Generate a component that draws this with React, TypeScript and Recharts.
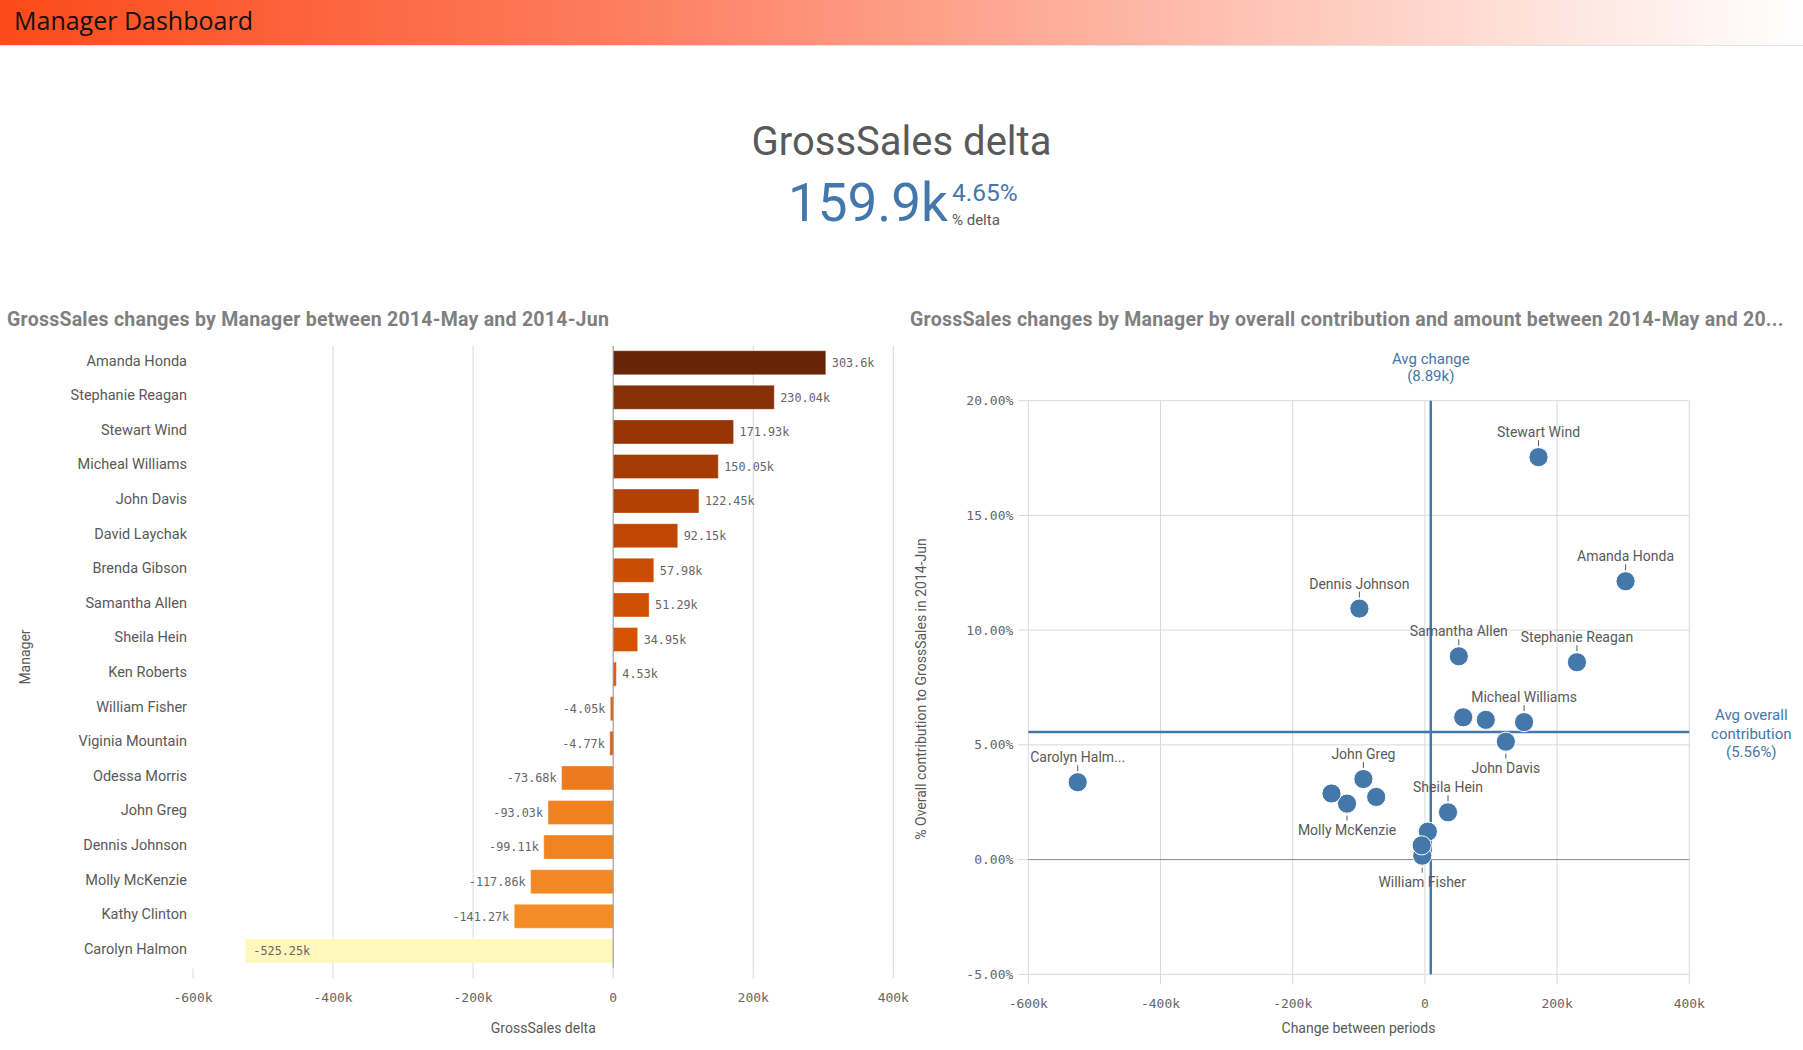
import React from 'react';
import {
  BarChart,
  Bar,
  XAxis,
  YAxis,
  Cell,
  LabelList,
  ReferenceLine,
  ScatterChart,
  Scatter,
  CartesianGrid,
} from 'recharts';

// ---------- data ----------
const managers = [
  'Amanda Honda',
  'Stephanie Reagan',
  'Stewart Wind',
  'Micheal Williams',
  'John Davis',
  'David Laychak',
  'Brenda Gibson',
  'Samantha Allen',
  'Sheila Hein',
  'Ken Roberts',
  'William Fisher',
  'Viginia Mountain',
  'Odessa Morris',
  'John Greg',
  'Dennis Johnson',
  'Molly McKenzie',
  'Kathy Clinton',
  'Carolyn Halmon',
];

// GrossSales delta between 2014-May and 2014-Jun, in thousands
const grossSalesDeltaK = [
  303.6, 230.04, 171.93, 150.05, 122.45, 92.15, 57.98, 51.29, 34.95, 4.53, -4.05, -4.77, -73.68,
  -93.03, -99.11, -117.86, -141.27, -525.25,
];

// % overall contribution to GrossSales in 2014-Jun
const contributionPct = [
  12.13, 8.6, 17.54, 5.99, 5.14, 6.09, 6.2, 8.86, 2.06, 1.22, 0.17, 0.62, 2.73, 3.51, 10.94, 2.44,
  2.88, 3.37,
];

const deltaTicks = [-600, -400, -200, 0, 200, 400];
const deltaGridValues = [-400, -200, 200, 400];
const contributionTicks = [-5, 0, 5, 10, 15, 20];

const avgChangeK = 8.89;
const avgContributionPct = 5.56;

const kpiTitle = 'GrossSales delta';
const kpiValue = '159.9k';
const kpiPct = '4.65%';
const kpiPctLabel = '% delta';

// scatter point labels
const labeledManagers = [
  'Stewart Wind',
  'Amanda Honda',
  'Dennis Johnson',
  'Samantha Allen',
  'Stephanie Reagan',
  'Micheal Williams',
  'John Davis',
  'John Greg',
  'Molly McKenzie',
  'Sheila Hein',
  'William Fisher',
  'Carolyn Halmon',
];
const labelTexts = [
  'Stewart Wind',
  'Amanda Honda',
  'Dennis Johnson',
  'Samantha Allen',
  'Stephanie Reagan',
  'Micheal Williams',
  'John Davis',
  'John Greg',
  'Molly McKenzie',
  'Sheila Hein',
  'William Fisher',
  'Carolyn Halm...',
];
const labelBelow = [
  false, false, false, false, false, false, true, false, true, false, true, false,
];

// ---------- styles ----------
const barColors = [
  '#662506',
  '#863008',
  '#993505',
  '#a53b04',
  '#b34104',
  '#c04604',
  '#cb4c03',
  '#cf5003',
  '#d55305',
  '#de5b0a',
  '#e0600e',
  '#e0600e',
  '#ee7a1f',
  '#f08220',
  '#f18421',
  '#f38823',
  '#f58d26',
  '#fff7bc',
];

const GRID = '#d9d9d9';
const ZERO = '#8c8c8c';
const TEXT = '#595959';
const TICK = '#666666';
const BLUE = '#4477aa';
const MONO = '"DejaVu Sans Mono", monospace';
const SANS = 'Roboto, "Open Sans", sans-serif';

const BAR_PLOT_LEFT = 193;

const barData = managers.map((name, i) => ({ name, delta: grossSalesDeltaK[i] }));
const scatterData = managers.map((name, i) => ({
  name,
  x: grossSalesDeltaK[i],
  y: contributionPct[i],
}));

const fmtK = (v: number) => `${+v.toFixed(2)}k`;

const BarValueLabel = (props: any) => {
  const { x, y, width, height, value } = props;
  const xx = Number(x);
  const ww = Number(width);
  const left = Math.min(xx, xx + ww);
  const right = Math.max(xx, xx + ww);
  const cy = Number(y) + Number(height) / 2;
  const text = fmtK(Number(value));
  const common = {
    y: cy,
    dy: '0.36em',
    fill: TICK,
    fontSize: 11.8,
    fontFamily: MONO,
  } as any;
  if (value >= 0) {
    return (
      <text {...common} x={right + 6} textAnchor="start">
        {text}
      </text>
    );
  }
  const estWidth = text.length * 7.1;
  if (left - 5 - estWidth < BAR_PLOT_LEFT) {
    return (
      <text {...common} x={left + 8} textAnchor="start">
        {text}
      </text>
    );
  }
  return (
    <text {...common} x={left - 5} textAnchor="end">
      {text}
    </text>
  );
};

const DotShape = (props: any) => {
  const { cx, cy } = props;
  return <circle cx={cx} cy={cy} r={9.6} fill={BLUE} stroke="#ffffff" strokeWidth={1} />;
};

const PointLabelShape = (props: any) => {
  const { cx, cy, payload } = props;
  const idx = labeledManagers.indexOf(payload?.name);
  if (idx < 0) return <g />;
  const below = labelBelow[idx];
  return (
    <g>
      <line
        x1={cx}
        x2={cx}
        y1={below ? cy + 12 : cy - 17}
        y2={below ? cy + 17 : cy - 11}
        stroke={TEXT}
        strokeWidth={1}
      />
      <text
        x={cx}
        y={below ? cy + 31 : cy - 20}
        textAnchor="middle"
        fill={TEXT}
        fontSize={14}
        fontFamily={SANS}
      >
        {labelTexts[idx]}
      </text>
    </g>
  );
};

const AvgChangeLabel = (props: any) => {
  const vb = props.viewBox || {};
  const x = vb.x;
  const y = vb.y;
  return (
    <g>
      <text x={x} y={y - 37} textAnchor="middle" fill={BLUE} fontSize={15} fontFamily={SANS}>
        Avg change
      </text>
      <text x={x} y={y - 20} textAnchor="middle" fill={BLUE} fontSize={15} fontFamily={SANS}>
        {`(${avgChangeK}k)`}
      </text>
    </g>
  );
};

const AvgContributionLabel = (props: any) => {
  const vb = props.viewBox || {};
  const x = vb.x + vb.width + 62;
  const y = vb.y;
  return (
    <g>
      <text x={x} y={y - 12} textAnchor="middle" fill={BLUE} fontSize={15} fontFamily={SANS}>
        Avg overall
      </text>
      <text x={x} y={y + 7} textAnchor="middle" fill={BLUE} fontSize={15} fontFamily={SANS}>
        contribution
      </text>
      <text x={x} y={y + 25} textAnchor="middle" fill={BLUE} fontSize={15} fontFamily={SANS}>
        {`(${avgContributionPct.toFixed(2)}%)`}
      </text>
    </g>
  );
};

const abs = (s: React.CSSProperties): React.CSSProperties => ({ position: 'absolute', ...s });

const titleStyle = (left: number): React.CSSProperties =>
  abs({
    left,
    top: 310,
    height: 20,
    lineHeight: '20px',
    fontSize: 19.5,
    letterSpacing: 0.25,
    fontWeight: 700,
    color: '#7f7f7f',
    whiteSpace: 'nowrap',
  });

export default function App() {
  return (
    <div
      style={{
        position: 'absolute',
        left: 0,
        top: 0,
        width: 1803,
        height: 1050,
        background: '#ffffff',
        overflow: 'hidden',
        fontFamily: SANS,
      }}
    >
      {/* header */}
      <div
        style={abs({
          left: 0,
          top: 0,
          width: 1803,
          height: 46,
          background: 'linear-gradient(90deg, #fc4a1a 0%, #fd7b5c 33%, #ffffff 100%)',
          borderBottom: '1px solid #e3e3e3',
          boxSizing: 'border-box',
        })}
      />
      <div
        style={abs({
          left: 14,
          top: 0,
          height: 40,
          lineHeight: '40px',
          fontSize: 25,
          fontFamily: '"Open Sans", sans-serif',
          color: '#111111',
          whiteSpace: 'nowrap',
        })}
      >
        Manager Dashboard
      </div>

      {/* KPI */}
      <div
        style={abs({
          left: 0,
          width: 1803,
          top: 122,
          height: 40,
          lineHeight: '40px',
          fontSize: 40,
          textAlign: 'center',
          color: TEXT,
          whiteSpace: 'nowrap',
        })}
      >
        {kpiTitle}
      </div>
      <div
        style={abs({
          left: 788,
          top: 177,
          height: 53,
          lineHeight: '53px',
          fontSize: 53,
          color: BLUE,
          whiteSpace: 'nowrap',
        })}
      >
        {kpiValue}
      </div>
      <div
        style={abs({
          left: 952,
          top: 181,
          height: 24,
          lineHeight: '24px',
          fontSize: 24.5,
          color: BLUE,
          whiteSpace: 'nowrap',
        })}
      >
        {kpiPct}
      </div>
      <div
        style={abs({
          left: 952,
          top: 213,
          height: 15,
          lineHeight: '15px',
          fontSize: 15,
          color: TEXT,
          whiteSpace: 'nowrap',
        })}
      >
        {kpiPctLabel}
      </div>

      {/* chart titles */}
      <div style={titleStyle(7)}>GrossSales changes by Manager between 2014-May and 2014-Jun</div>
      <div style={titleStyle(910)}>
        GrossSales changes by Manager by overall contribution and amount between 2014-May and 20...
      </div>

      {/* bar chart */}
      <div style={abs({ left: 0, top: 300 })}>
        <BarChart
          width={925}
          height={750}
          data={barData}
          layout="vertical"
          margin={{ top: 45.7, right: 31.7, bottom: 51.5, left: 0 }}
        >
          <CartesianGrid
            horizontal={false}
            vertical
            verticalValues={deltaGridValues}
            stroke={GRID}
            strokeWidth={1}
          />
          <XAxis
            type="number"
            domain={[-600, 400]}
            ticks={deltaTicks}
            tickFormatter={(v: number) => (v === 0 ? '0' : `${v}k`)}
            axisLine={false}
            tickLine={{ stroke: GRID }}
            tickSize={10}
            tickMargin={14}
            height={30}
            tick={{ fill: TICK, fontSize: 13, fontFamily: MONO }}
            allowDataOverflow
          />
          <YAxis
            type="category"
            dataKey="name"
            width={193}
            axisLine={false}
            tickLine={false}
            tickSize={0}
            tickMargin={6}
            interval={0}
            tick={{ fill: TEXT, fontSize: 14.5, fontFamily: SANS, dy: -2.5 }}
          />
          <Bar dataKey="delta" barSize={24} isAnimationActive={false}>
            {barData.map((d, i) => (
              <Cell key={d.name} fill={barColors[i]} stroke="rgba(255,255,255,0.35)" strokeWidth={1} />
            ))}
            <LabelList dataKey="delta" content={BarValueLabel} />
          </Bar>
          <ReferenceLine x={0} stroke={ZERO} strokeWidth={1} />
        </BarChart>
      </div>

      {/* scatter chart */}
      <div style={abs({ left: 900, top: 300 })}>
        <ScatterChart
          width={903}
          height={750}
          margin={{ top: 100.7, right: 113.7, bottom: 45.7, left: 0 }}
        >
          <CartesianGrid stroke={GRID} strokeWidth={1} />
          <XAxis
            type="number"
            dataKey="x"
            domain={[-600, 400]}
            ticks={deltaTicks}
            tickFormatter={(v: number) => (v === 0 ? '0' : `${v}k`)}
            axisLine={false}
            tickLine={{ stroke: GRID }}
            tickSize={10}
            tickMargin={14}
            height={30}
            tick={{ fill: TICK, fontSize: 13, fontFamily: MONO }}
            allowDataOverflow
          />
          <YAxis
            type="number"
            dataKey="y"
            domain={[-5, 20]}
            ticks={contributionTicks}
            tickFormatter={(v: number) => `${v.toFixed(2)}%`}
            axisLine={false}
            tickLine={{ stroke: GRID }}
            tickSize={10}
            tickMargin={5}
            width={128.3}
            tick={{ fill: TICK, fontSize: 13, fontFamily: MONO }}
            allowDataOverflow
          />
          <ReferenceLine y={0} stroke={ZERO} strokeWidth={1} />
          <ReferenceLine x={avgChangeK} stroke={BLUE} strokeWidth={2.5} label={AvgChangeLabel} />
          <ReferenceLine
            y={avgContributionPct}
            stroke={BLUE}
            strokeWidth={2.5}
            label={AvgContributionLabel}
          />
          <Scatter data={scatterData} shape={DotShape} isAnimationActive={false} />
          <Scatter data={scatterData} shape={PointLabelShape} isAnimationActive={false} />
        </ScatterChart>
      </div>

      {/* axis titles */}
      <div
        style={abs({
          left: 25,
          top: 657,
          transform: 'translate(-50%, -50%) rotate(-90deg)',
          fontSize: 14,
          lineHeight: '14px',
          color: TEXT,
          whiteSpace: 'nowrap',
        })}
      >
        Manager
      </div>
      <div
        style={abs({
          left: 543.3,
          top: 1028,
          transform: 'translate(-50%, -50%)',
          fontSize: 14,
          lineHeight: '14px',
          color: TEXT,
          whiteSpace: 'nowrap',
        })}
      >
        GrossSales delta
      </div>
      <div
        style={abs({
          left: 920.7,
          top: 688.5,
          transform: 'translate(-50%, -50%) rotate(-90deg)',
          fontSize: 14,
          lineHeight: '14px',
          color: TEXT,
          whiteSpace: 'nowrap',
        })}
      >
        % Overall contribution to GrossSales in 2014-Jun
      </div>
      <div
        style={abs({
          left: 1358.5,
          top: 1028,
          transform: 'translate(-50%, -50%)',
          fontSize: 14,
          lineHeight: '14px',
          color: TEXT,
          whiteSpace: 'nowrap',
        })}
      >
        Change between periods
      </div>
    </div>
  );
}
